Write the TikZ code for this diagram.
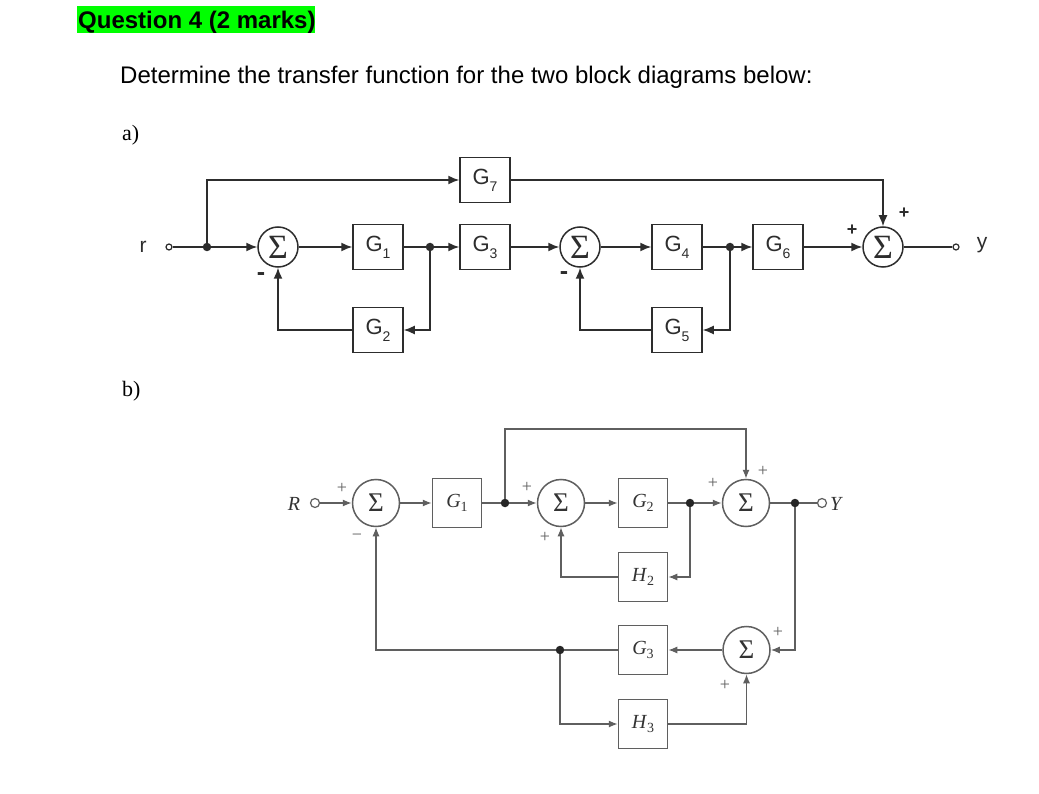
\documentclass[tikz,border=0pt]{standalone}
\usepackage{fontspec}
\setmainfont{Liberation Sans}
\newfontfamily\serf{Liberation Serif}
\usetikzlibrary{arrows.meta}
\definecolor{hlgreen}{RGB}{0,255,0}
\definecolor{agray}{RGB}{45,45,45}
\definecolor{bgray}{RGB}{95,95,95}
\newcommand{\labA}[1]{G\raisebox{-7pt}{\fontsize{14}{14}\selectfont #1}}
\newcommand{\labB}[2]{\textit{#1}\raisebox{-4pt}{\fontsize{14}{14}\selectfont #2}}
\tikzset{
  aline/.style={draw=agray, line width=1.5pt},
  aarr/.style={aline, -{Latex[length=11pt,width=9pt]}},
  ablock/.style={draw=agray, line width=1.5pt, minimum width=50pt, minimum height=45pt, inner sep=0pt, font=\fontsize{22}{22}\selectfont, text=agray},
  asum/.style={circle, draw=agray, line width=1.5pt, minimum size=40pt, inner sep=0pt, font=\serf\fontsize{34}{34}\selectfont, text=agray},
  dota/.style={circle, fill=agray, minimum size=8.5pt, inner sep=0pt},
  ocirca/.style={circle, draw=agray, line width=1.2pt, minimum size=6pt, inner sep=0pt, fill=white},
  alab/.style={inner sep=0pt, font=\fontsize{21}{21}\selectfont, text=agray},
  asign/.style={inner sep=0pt, font=\bfseries\fontsize{18}{18}\selectfont, text=agray},
  aminus/.style={inner sep=0pt, font=\bfseries\fontsize{25}{25}\selectfont, text=agray},
  bline/.style={draw=bgray, line width=1.3pt},
  barr/.style={bline, -{Latex[length=9pt,width=7pt]}},
  bblock/.style={draw=bgray, line width=1.5pt, minimum width=49pt, minimum height=49pt, inner sep=0pt, font=\serf\fontsize{20}{20}\selectfont, text=black!80},
  bsum/.style={circle, draw=bgray, line width=1.5pt, minimum size=47pt, inner sep=0pt, font=\serf\fontsize{27}{27}\selectfont, text=black!80},
  dotb/.style={circle, fill=black!85, minimum size=8.5pt, inner sep=0pt},
  ocircb/.style={circle, draw=bgray, line width=1.2pt, minimum size=9pt, inner sep=0pt, fill=white},
  blab/.style={inner sep=0pt, font=\serf\itshape\fontsize{20}{20}\selectfont, text=black!80},
  bsign/.style={inner sep=0pt, font=\serf\fontsize{18}{18}\selectfont, text=bgray},
}
\begin{document}
\begin{tikzpicture}[x=1pt,y=-1pt]
\useasboundingbox (0,0) rectangle (1039,794);
\fill[white] (0,0) rectangle (1039,794);
% header
\fill[hlgreen] (77,6) rectangle (315,33);
\node[anchor=base west, inner sep=0pt, font=\bfseries\fontsize{24}{24}\selectfont] (q) at (78,29) {Question 4 (2 marks)};
\node[anchor=base west, inner sep=0pt, font=\fontsize{24}{24}\selectfont] (det) at (120,84) {Determine the transfer function for the two block diagrams below:};
\node[anchor=base west, inner sep=0pt, font=\serf\fontsize{22}{22}\selectfont] (pa) at (122,141) {a)};
\node[anchor=base west, inner sep=0pt, font=\serf\fontsize{22}{22}\selectfont] (pb) at (122,396) {b)};
% ---------------- diagram a
\node[alab] (rl) at (143,247) {r};
\node[ocirca] (rc) at (169,247) {};
\node[dota] (ja) at (207,247) {};
\node[asum] (sa1) at (278,247) {Σ};
\node[ablock] (g1) at (378,247) {\labA{1}};
\node[dota] (ja2) at (430,247) {};
\node[ablock] (g3) at (485,247) {\labA{3}};
\node[ablock] (g7) at (485,180) {\labA{7}};
\node[asum] (sa2) at (580,247) {Σ};
\node[ablock] (g4) at (677,247) {\labA{4}};
\node[dota] (ja3) at (730,247) {};
\node[ablock] (g6) at (778,247) {\labA{6}};
\node[asum] (sa3) at (883,247) {Σ};
\node[ocirca] (yc) at (956,247) {};
\node[alab] (yl) at (982,245) {y};
\node[ablock] (g2) at (378,330) {\labA{2}};
\node[ablock] (g5) at (677,330) {\labA{5}};
\draw[aline] (rc) -- (ja);
\draw[aarr] (ja) -- (sa1);
\draw[aarr] (ja) |- (g7.west);
\draw[aarr] (sa1) -- (g1);
\draw[aline] (g1) -- (ja2);
\draw[aarr] (ja2) -- (g3);
\draw[aarr] (g3) -- (sa2);
\draw[aarr] (sa2) -- (g4);
\draw[aline] (g4) -- (ja3);
\draw[aarr] (ja3) -- (g6);
\draw[aarr] (g6) -- (sa3);
\draw[aline] (sa3) -- (yc);
\draw[aarr] (g7.east) -| (sa3.north);
\draw[aarr] (ja2) |- (g2.east);
\draw[aarr] (g2.west) -| (sa1.south);
\draw[aarr] (ja3) |- (g5.east);
\draw[aarr] (g5.west) -| (sa2.south);
\node[aminus] (m1) at (261,277) {-};
\node[aminus] (m2) at (564,276) {-};
\node[asign] (p1) at (852,230) {+};
\node[asign] (p2) at (904,213) {+};
% ---------------- diagram b
\node[blab] (Rl) at (294,504) {R};
\node[ocircb] (Rc) at (315,503) {};
\node[bsum] (sb1) at (376,503) {Σ};
\node[bblock] (bg1) at (457,503) {\labB{G}{1}};
\node[dotb] (jb1) at (505,503) {};
\node[bsum] (sb2) at (561,503) {Σ};
\node[bblock] (bg2) at (643,503) {\labB{G}{2}};
\node[dotb] (jb2) at (690,503) {};
\node[bsum] (sb3) at (746,503) {Σ};
\node[dotb] (jb3) at (795,503) {};
\node[ocircb] (Yc) at (822,503) {};
\node[blab, anchor=west] (Yl) at (830,504) {Y};
\node[bblock] (bh2) at (643,577) {\labB{H}{2}};
\node[bblock] (bg3) at (643,650) {\labB{G}{3}};
\node[bsum] (sb4) at (746.5,650) {Σ};
\node[dotb] (jb4) at (560,650) {};
\node[bblock] (bh3) at (643,724) {\labB{H}{3}};
\coordinate (tl) at (505,429);
\draw[barr] (Rc) -- (sb1);
\draw[barr] (sb1) -- (bg1);
\draw[bline] (bg1) -- (jb1);
\draw[barr] (jb1) -- (sb2);
\draw[barr] (jb1) -- (tl) -| (sb3.north);
\draw[barr] (sb2) -- (bg2);
\draw[bline] (bg2) -- (jb2);
\draw[barr] (jb2) -- (sb3);
\draw[bline] (sb3) -- (jb3);
\draw[bline] (jb3) -- (Yc);
\draw[barr] (jb2) |- (bh2.east);
\draw[barr] (bh2.west) -| (sb2.south);
\draw[barr] (jb3) |- (sb4.east);
\draw[barr] (sb4) -- (bg3);
\draw[bline] (bg3.west) -- (jb4);
\draw[barr] (jb4) -| (sb1.south);
\draw[barr] (jb4) |- (bh3.west);
\draw[barr] (bh3.east) -| (sb4.south);
\node[bsign] (s1) at (342,488) {+};
\node[bsign] (s2) at (357,537) {−};
\node[bsign] (s3) at (527,487) {+};
\node[bsign] (s4) at (545,537) {+};
\node[bsign] (s5) at (713,483) {+};
\node[bsign] (s6) at (763,471) {+};
\node[bsign] (s7) at (778,632) {+};
\node[bsign] (s8) at (725,685) {+};
\end{tikzpicture}
\end{document}
